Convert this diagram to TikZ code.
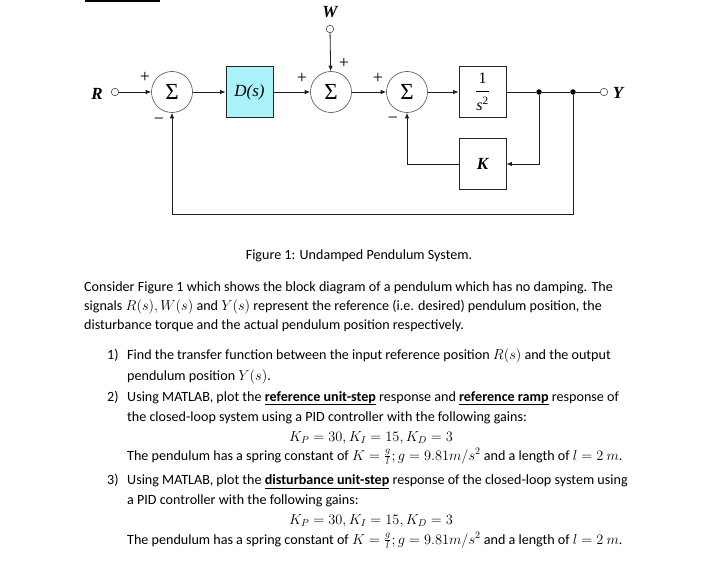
\documentclass[tikz,border=0pt]{standalone}
\usepackage[no-math]{fontspec}
\setmainfont{Carlito}
\newfontfamily\tms{Liberation Serif}
\usetikzlibrary{arrows.meta}
\definecolor{dcyan}{RGB}{170,242,250}
\definecolor{lnc}{RGB}{30,30,30}
\tikzset{
  sumnode/.style={circle,draw=black!70,line width=0.6pt,minimum size=41pt,inner sep=0pt,font=\tms\fontsize{23}{23}\selectfont},
  blk/.style={rectangle,draw=black!85,line width=0.9pt,minimum width=47pt,minimum height=51pt,inner sep=0pt},
  io/.style={circle,draw=black!70,line width=0.6pt,minimum size=7.5pt,inner sep=0pt},
  jdot/.style={circle,fill=black,minimum size=5.5pt,inner sep=0pt},
  lbl/.style={font=\tms\bfseries\itshape\fontsize{17}{17}\selectfont,inner sep=0pt},
  sgn/.style={font=\tms\fontsize{18}{18}\selectfont,inner sep=0pt},
  ln/.style={draw=lnc,line width=0.8pt},
  arr/.style={ln,-{Latex[length=5.5pt,width=4.5pt]}},
  txt/.style={anchor=base west,inner sep=0pt,font=\fontsize{14.1}{19}\selectfont},
  ctxt/.style={anchor=base,inner sep=0pt,font=\fontsize{14.1}{19}\selectfont},
}
\newcommand\bu[1]{\textbf{\underline{#1}}}
\begin{document}
\begin{tikzpicture}[x=1pt,y=-1pt]
\useasboundingbox (0,0) rectangle (718,567);
\fill (85,0) rectangle (160,2.2);
% nodes
\node[io] (R) at (115,92) {};
\node[lbl] (Rl) at (97,94) {R};
\node[sumnode] (s1) at (172,92) {Σ};
\node[blk,fill=dcyan] (D) at (249.5,92) {\tms\itshape\fontsize{17}{17}\selectfont D(s)};
\node[sumnode] (s2) at (331,92) {Σ};
\node[io] (W) at (330,29) {};
\node[lbl] (Wl) at (330,12) {W};
\node[sumnode] (s3) at (407,92) {Σ};
\node[blk] (G) at (482.5,92) {};
\node[inner sep=0pt,font=\tms\fontsize{16}{16}\selectfont] (G1) at (482.5,78) {1};
\node[inner sep=0pt,font=\tms\itshape\fontsize{16}{16}\selectfont] (G2) at (482.5,104) {s\textsuperscript{\upshape 2}};
\draw[line width=0.7pt] (476,91) -- (489,91);
\node[blk] (K) at (482.5,164) {\tms\bfseries\itshape\fontsize{17}{17}\selectfont K};
\node[jdot] (d1) at (539,92) {};
\node[jdot] (d2) at (573,92) {};
\node[io] (Y) at (604,92) {};
\node[lbl] (Yl) at (618,93) {Y};
\coordinate (c1) at (539,164);
\coordinate (c2) at (407,164);
\coordinate (c3) at (573,214);
\coordinate (c4) at (172,214);
% signs
\node[sgn] (p1) at (145,77) {+};
\node[sgn] (m1) at (159,121) {−};
\node[sgn] (p2) at (302,78) {+};
\node[sgn] (p3) at (344,63) {+};
\node[sgn] (p4) at (378,78) {+};
\node[sgn] (m3) at (393,120) {−};
% connectors
\draw[arr] (R) -- (s1);
\draw[arr] (s1) -- (D);
\draw[arr] (D) -- (s2);
\draw[arr] (W) -- (s2);
\draw[arr] (s2) -- (s3);
\draw[arr] (s3) -- (G);
\draw[ln] (G) -- (d1) -- (d2) -- (Y);
\draw[arr] (d1) -- (c1) -- (K);
\draw[arr] (K) -- (c2) -- (s3);
\draw[arr] (d2) -- (c3) -- (c4) -- (s1);
% text
\node[ctxt] (cap) at (359,259) {Figure 1: Undamped Pendulum System.};
\node[txt] (t1) at (84,291.5) {Consider Figure 1 which shows the block diagram of a pendulum which has no damping. The};
\node[txt] (t2) at (84,310.5) {signals $R(s), W(s)$ and $Y(s)$ represent the reference (i.e. desired) pendulum position, the};
\node[txt] (t3) at (84,329.5) {disturbance torque and the actual pendulum position respectively.};
\node[txt] (n1) at (107,359.5) {1)};
\node[txt] (a1) at (127,359.5) {Find the transfer function between the input reference position $R(s)$ and the output};
\node[txt] (a2) at (127,380) {pendulum position $Y(s)$.};
\node[txt] (n2) at (107,401) {2)};
\node[txt] (b1) at (127,401) {Using MATLAB, plot the \bu{reference unit-step} response and \bu{reference ramp} response of};
\node[txt] (b2) at (127,421) {the closed-loop system using a PID controller with the following gains:};
\node[ctxt] (b3) at (371,441) {$K_P = 30, K_I = 15, K_D = 3$};
\node[txt] (b4) at (127,460) {The pendulum has a spring constant of $K=\frac{g}{l}; g = 9.81m/s^2$ and a length of $l = 2\ m$.};
\node[txt] (n3) at (107,484.5) {3)};
\node[txt] (c1t) at (127,484.5) {Using MATLAB, plot the \bu{disturbance unit-step} response of the closed-loop system using};
\node[txt] (c2t) at (127,504) {a PID controller with the following gains:};
\node[ctxt] (c3t) at (371,524) {$K_P = 30, K_I = 15, K_D = 3$};
\node[txt] (c4t) at (127,544) {The pendulum has a spring constant of $K=\frac{g}{l}; g = 9.81m/s^2$ and a length of $l = 2\ m$.};
\end{tikzpicture}
\end{document}
